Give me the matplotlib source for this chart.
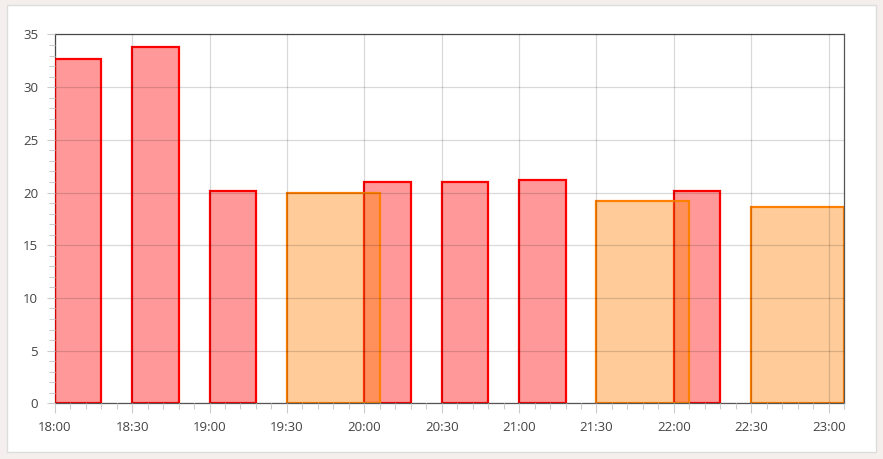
from datetime import datetime, timedelta
import matplotlib
matplotlib.use("Agg")
import matplotlib.pyplot as plt
import matplotlib.dates as mdates
from matplotlib.patches import Rectangle

# red series: short intervals
red_times = ["18:00", "18:30", "19:00", "20:00", "20:30", "21:00", "22:00"]
red_values = [32.7, 33.8, 20.1, 21.0, 21.0, 21.2, 20.1]
red_minutes = 18

# orange series: longer intervals
orange_times = ["19:30", "21:30", "22:30"]
orange_values = [20.0, 19.2, 18.6]
orange_minutes = 36

x_start = "18:00"
x_end = "23:06"


def to_dt(s):
    return datetime.strptime("2024-01-01 " + s, "%Y-%m-%d %H:%M")


plt.rcParams['font.family'] = ['Open Sans', 'DejaVu Sans']

fig = plt.figure(figsize=(8.83, 4.59), dpi=100)
fig.patch.set_facecolor('#f4efed')
fig.patches.append(Rectangle((7 / 883, 7 / 459), 869 / 883, 447 / 459,
                             transform=fig.transFigure, facecolor='white',
                             edgecolor='#dddddd', linewidth=1, zorder=-5))

ax = fig.add_axes([0.062, 0.1213, 0.894, 0.8037])
ax.set_zorder(2)
ax.set_facecolor('white')

ax.bar([to_dt(t) for t in red_times], red_values,
       width=timedelta(minutes=red_minutes), align='edge',
       facecolor=(1, 0, 0, 0.4), edgecolor='#ff0000', linewidth=1.6, zorder=2)
ax.bar([to_dt(t) for t in orange_times], orange_values,
       width=timedelta(minutes=orange_minutes), align='edge',
       facecolor=(1, 0.5, 0, 0.4), edgecolor='#ff8000', linewidth=1.6, zorder=2)

ax.set_xlim(to_dt(x_start), to_dt(x_end))
ax.set_ylim(0, 35)

ax.xaxis.set_major_locator(mdates.MinuteLocator(byminute=[0, 30]))
ax.xaxis.set_minor_locator(mdates.MinuteLocator(byminute=range(0, 60, 6)))
ax.xaxis.set_major_formatter(mdates.DateFormatter('%H:%M'))
ax.set_yticks(range(0, 36, 5))
ax.set_yticks(range(0, 36, 1), minor=True)

# grid sits on top of the bars, semi-transparent
ax.set_axisbelow(False)
ax.grid(True, which='major', color='black', alpha=0.15, linewidth=0.9)

ax.tick_params(axis='both', which='major', length=6, width=0.8, color='#cccccc',
               labelsize=9.5, labelcolor='#444444', pad=6)
ax.tick_params(axis='x', which='major', length=7)
ax.tick_params(axis='both', which='minor', length=4, width=0.8, color='#cccccc')

for side in ['top', 'right', 'bottom', 'left']:
    ax.spines[side].set_color('#555555')
    ax.spines[side].set_linewidth(0.9)
ax.spines['left'].set_zorder(1)

fig.savefig('out.png', dpi=100)
